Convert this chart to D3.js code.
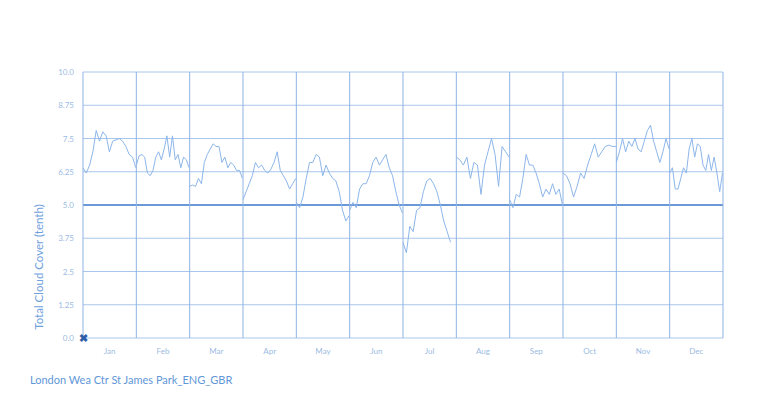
<!DOCTYPE html>
<html>
<head>
<meta charset="utf-8">
<script src="https://cdn.jsdelivr.net/npm/d3@7"></script>
<style>
  body { margin: 0; background: #fff; }
  text { font-family: Lato, "Open Sans", sans-serif; }
</style>
</head>
<body>
<div id="chart"></div>
<script>
// Data
const months = ['Jan','Feb','Mar','Apr','May','Jun','Jul','Aug','Sep','Oct','Nov','Dec']
const yTicks = [0, 1.25, 2.5, 3.75, 5.0, 6.25, 7.5, 8.75, 10.0]
const title = 'London Wea Ctr St James Park_ENG_GBR'

// one array per month, values in tenths
const jan = [6.4, 6.2, 6.5, 7.0, 7.8, 7.4, 7.75, 7.6, 7.0, 7.4, 7.45, 7.5, 7.4, 7.2, 6.9, 6.8, 6.4]
const feb = [6.5, 6.85, 6.9, 6.8, 6.2, 6.1, 6.3, 6.8, 7.0, 6.7, 7.1, 7.6, 6.8, 7.6, 6.7, 6.9, 6.4, 6.8, 6.7, 6.4]
const mar = [5.7, 5.75, 5.7, 6.0, 5.8, 6.6, 6.9, 7.1, 7.3, 7.2, 7.2, 6.6, 6.8, 6.4, 6.6, 6.5, 6.3, 6.3, 6.0]
const apr = [5.2, 5.5, 5.8, 6.1, 6.6, 6.4, 6.5, 6.3, 6.2, 6.35, 6.6, 7.0, 6.3, 6.1, 5.9, 5.6, 5.8, 6.0]
const may = [5.1, 4.9, 5.3, 6.0, 6.6, 6.6, 6.9, 6.8, 6.1, 6.5, 6.2, 6.0, 5.9, 5.5, 4.8, 4.4, 4.6]
const jun = [4.8, 5.1, 4.9, 5.6, 5.8, 5.8, 6.1, 6.6, 6.8, 6.5, 6.7, 6.9, 6.4, 6.1, 5.5, 5.0, 4.7]
const jul = [3.6, 3.2, 4.2, 4.0, 4.8, 4.9, 5.5, 5.9, 6.0, 5.8, 5.5, 5.0, 4.4, 4.0, 3.6]
const aug = [6.8, 6.7, 6.5, 6.8, 6.0, 6.6, 6.5, 5.4, 6.5, 7.0, 7.5, 6.9, 5.7, 7.2, 7.0, 6.8]
const sep = [5.2, 4.9, 5.4, 5.3, 6.0, 6.9, 6.5, 6.5, 6.2, 5.8, 5.3, 5.6, 5.4, 5.8, 5.4, 5.6, 5.0]
const oct = [6.2, 6.1, 5.8, 5.3, 5.7, 6.2, 6.0, 6.5, 6.9, 7.3, 6.8, 7.0, 7.2, 7.25, 7.2, 7.2]
const nov = [6.6, 7.0, 7.5, 7.0, 7.4, 7.2, 7.5, 7.1, 7.0, 7.4, 7.8, 8.0, 7.4, 7.0, 6.6, 7.0, 7.5, 7.1]
const dec = [6.2, 6.4, 5.6, 5.6, 6.0, 6.4, 6.2, 7.1, 7.5, 6.8, 7.3, 7.2, 6.5, 6.3, 6.9, 6.3, 6.8, 6.2, 5.5, 6.2]
const series = [jan, feb, mar, apr, may, jun, jul, aug, sep, oct, nov, dec]
// how far into its month each series runs (Jul stops short)
const monthSpan = [1, 1, 1, 1, 1, 1, 0.9, 1, 1, 1, 1, 1]

const dimensions = {
  width: 768,
  height: 408,
  margins: { top: 72, bottom: 70, left: 83, right: 45 }
}
dimensions.ctrWidth = dimensions.width - dimensions.margins.left - dimensions.margins.right
dimensions.ctrHeight = dimensions.height - dimensions.margins.top - dimensions.margins.bottom

const svg = d3.select('#chart')
  .append('svg')
  .attr('width', dimensions.width)
  .attr('height', dimensions.height)

const ctr = svg.append('g')
  .attr('transform', `translate(${dimensions.margins.left}, ${dimensions.margins.top})`)

// Scales
const xScale = d3.scaleLinear().domain([0, 12]).range([0, dimensions.ctrWidth])
const yScale = d3.scaleLinear().domain([0, 10]).range([dimensions.ctrHeight, 0])

// Grid
ctr.selectAll('.hgrid')
  .data(yTicks)
  .join('line')
  .attr('x1', 0).attr('x2', dimensions.ctrWidth)
  .attr('y1', d => yScale(d)).attr('y2', d => yScale(d))
  .attr('stroke', d => d === 5 ? '#6b98d6' : '#a9c6ec')
  .attr('stroke-width', d => d === 5 ? 1.8 : 1)

ctr.selectAll('.vgrid')
  .data(d3.range(13))
  .join('line')
  .attr('x1', d => xScale(d)).attr('x2', d => xScale(d))
  .attr('y1', 0).attr('y2', dimensions.ctrHeight)
  .attr('stroke', '#90b4e4')
  .attr('stroke-width', 1)

// Axes labels
ctr.selectAll('.ylab')
  .data(yTicks)
  .join('text')
  .attr('x', -9)
  .attr('y', d => yScale(d) + 3)
  .attr('text-anchor', 'end')
  .attr('font-size', 8)
  .attr('fill', '#9bbbe3')
  .text(d => d.toFixed(d % 1 === 0 || d === 7.5 || d === 2.5 ? 1 : 2))

ctr.selectAll('.xlab')
  .data(months)
  .join('text')
  .attr('x', (d, i) => xScale(i + 0.5))
  .attr('y', dimensions.ctrHeight + 16)
  .attr('text-anchor', 'middle')
  .attr('font-size', 8)
  .attr('fill', '#9bbbe3')
  .text(d => d)

// Lines, one path per month
const line = d3.line()
  .x(d => xScale(d.x))
  .y(d => yScale(d.y))

series.forEach((vals, m) => {
  const pts = vals.map((v, i) => ({ x: m + (i / (vals.length - 1)) * monthSpan[m] * 0.99, y: v }))
  ctr.append('path')
    .datum(pts)
    .attr('d', line)
    .attr('fill', 'none')
    .attr('stroke', '#8db6ea')
    .attr('stroke-width', 1)
})

// origin marker
ctr.append('text')
  .attr('x', 0).attr('y', dimensions.ctrHeight + 4)
  .attr('text-anchor', 'middle')
  .attr('font-size', 11)
  .attr('font-weight', 'bold')
  .attr('fill', '#2f5fa8')
  .text('✖')

// Titles
svg.append('text')
  .attr('transform', `translate(43, 267) rotate(-90)`)
  .attr('text-anchor', 'middle')
  .attr('font-size', 11.5)
  .attr('fill', '#6f9fdc')
  .text('Total Cloud Cover (tenth)')

svg.append('text')
  .attr('x', 30).attr('y', 384)
  .attr('font-size', 11)
  .attr('fill', '#5f97d8')
  .text(title)
</script>
</body>
</html>
